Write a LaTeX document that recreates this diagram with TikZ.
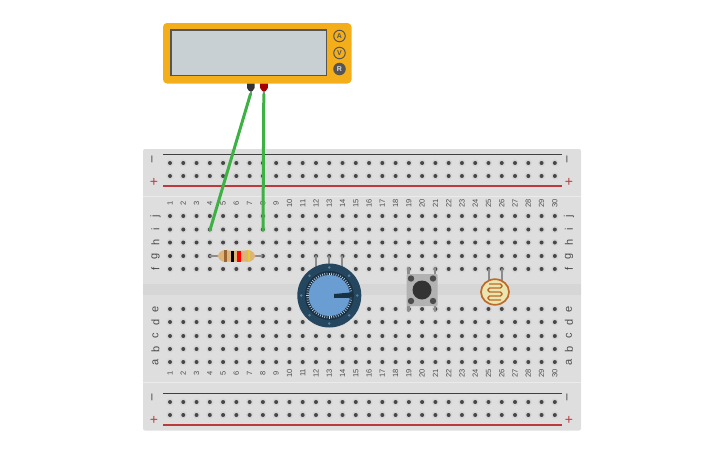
\documentclass[tikz,border=0pt]{standalone}
\usepackage{fontspec}
\setmainfont{Liberation Sans}
\usetikzlibrary{positioning}
\definecolor{boardgray}{HTML}{DEDEDE}
\definecolor{channelgray}{HTML}{D6D6D6}
\definecolor{meterorange}{HTML}{F3AE1A}
\definecolor{screengray}{HTML}{C8D0D3}
\definecolor{meterdark}{HTML}{555555}
\definecolor{railred}{HTML}{BC3A3E}
\definecolor{wiregreen}{HTML}{3DB143}
\definecolor{potdark}{HTML}{24465F}
\definecolor{potblue}{HTML}{6A9DD2}
\definecolor{ldrorange}{HTML}{BF6A2A}
\definecolor{restan}{HTML}{DDB57A}
\tikzset{
	tinylabel/.style={font=\fontsize{7.5}{8}\selectfont, text=black!70, rotate=90, inner sep=0pt},
	rowlabel/.style={font=\fontsize{11}{11}\selectfont, text=black!70, rotate=90, inner sep=0pt},
	minuslabel/.style={font=\fontsize{14}{14}\selectfont, text=black!65, rotate=90, inner sep=0pt},
	pluslabel/.style={font=\fontsize{14}{14}\selectfont, text=railred, inner sep=0pt},
	modebutton/.style={circle, draw=meterdark, line width=1pt, minimum size=11.5pt, inner sep=0pt, font=\fontsize{7}{7}\selectfont\bfseries, text=meterdark},
	jumper/.style={line width=3pt, wiregreen, line cap=round},
	pinlead/.style={line width=2pt, black!45, line cap=round}
}
\newcommand{\boardhole}[2]{
	\fill[black!17] (#1,#2) circle (3.6);
	\fill[black!72] (#1,#2) circle (2);
}
\begin{document}
\begin{tikzpicture}[x=1pt,y=-1pt]
	\useasboundingbox (0,0) rectangle (725,453);

	% Draw the board with its channel and rail separators
	\fill[rounded corners=2pt, boardgray] (143,149) rectangle (581,430.5);
	\fill[channelgray] (143,284) rectangle (581,295);
	\draw[line width=0.7pt, black!8] (143,196) -- (581,196);
	\draw[line width=0.7pt, black!8] (143,382) -- (581,382);

	% Power rails
	\draw[line width=1.2pt, black!75] (163,154.5) -- (562,154.5);
	\draw[line width=1.2pt, railred] (163,186) -- (562,186);
	\draw[line width=1.2pt, black!75] (163,393.5) -- (562,393.5);
	\draw[line width=1.2pt, railred] (163,425) -- (562,425);

	\foreach \railx/\railname in {154/left,569/right} {
		\node[minuslabel] (minus-top-\railname) at (\railx,159) {−};
		\node[pluslabel] (plus-top-\railname) at (\railx,182) {+};
		\node[minuslabel] (minus-bot-\railname) at (\railx,397) {−};
		\node[pluslabel] (plus-bot-\railname) at (\railx,420) {+};
	}

	% Holes, column numbers
	\foreach \col in {1,...,30} {
		\pgfmathsetmacro{\colx}{170+(\col-1)*13.27}
		\foreach \rowy in {163,176,216,229.5,242.5,256,269,309,322,336,349,362,402,415} {
			\boardhole{\colx}{\rowy}
		}
		\node[tinylabel] (num-top-\col) at (\colx,203.5) {\col};
		\node[tinylabel] (num-bot-\col) at (\colx,373) {\col};
	}

	% Row letters
	\foreach \rowy/\rowname in {216/j,229.5/i,242.5/h,256/g,269/f,309/e,322/d,336/c,349/b,362/a} {
		\node[rowlabel] (row-left-\rowname) at (155.5,\rowy) {\rowname};
		\node[rowlabel] (row-right-\rowname) at (569,\rowy) {\rowname};
	}

	% Multimeter
	\fill[rounded corners=4pt, meterorange] (163,23) rectangle (351.5,83.5);
	\draw[line width=1.9pt, meterdark, fill=screengray] (171,30) rectangle (326.5,75.5);
	\node[modebutton] (mode-a) at (339.5,36) {A};
	\node[modebutton] (mode-v) at (339.5,53) {V};
	\node[modebutton, fill=meterdark, text=boardgray] (mode-r) at (339.5,69) {R};

	% Probes
	\fill[black!45] (249.5,90) rectangle (252,94);
	\fill[black!80] (247,83.5) -- (254.5,83.5) -- (254.5,88) -- (252.5,91) -- (249,91) -- (247,88) -- cycle;
	\fill[black!45] (262.7,90) rectangle (265.2,94);
	\fill[red!65!black] (260.2,83.5) -- (267.8,83.5) -- (267.8,88) -- (265.8,91) -- (262.2,91) -- (260.2,88) -- cycle;
	\coordinate (probe-black) at (250.5,94);
	\coordinate (probe-red) at (263.8,94);
	\coordinate (hole-black) at (210,230);
	\coordinate (hole-red) at (263,230);
	\draw[jumper] (probe-black) -- (hole-black);
	\draw[jumper] (probe-red) -- (hole-red);

	% Resistor
	\draw[pinlead] (209.5,256) -- (262,256);
	\fill[restan] (217.5,256) .. controls (220,250) and (224,249.5) .. (228,250.5) -- (245,250.5) .. controls (249,249.5) and (253,250) .. (255.5,256) .. controls (253,262) and (249,262.5) .. (245,261.5) -- (228,261.5) .. controls (224,262.5) and (220,262) .. (217.5,256) -- cycle;
	\fill[brown!80!black] (223.5,250) rectangle (227,262);
	\fill[black] (230.5,250.5) rectangle (234,261.5);
	\fill[red] (237,250.5) rectangle (240.5,261.5);
	\fill[yellow!60!brown] (248,250) rectangle (249.5,262);

	% Potentiometer
	\foreach \pinx in {316,329,342} {
		\draw[pinlead] (\pinx,256) -- (\pinx,272);
	}
	\fill[potdark] (329.3,295.5) circle (32);
	\fill[potdark!70!black] (329.3,295.5) circle (24.5);
	\foreach \tick in {0,6,...,354} {
		\draw[line width=0.6pt, white!60!potblue] (329.3,295.5) ++(\tick:20.5) -- ++(\tick:2.5);
	}
	\fill[potblue] (329.3,295.5) circle (20.5);
	\foreach \screw in {0,45,...,315} {
		\fill[potblue!80!black] (329.3,295.5) ++(\screw:28) circle (1.4);
	}
	\fill[potdark!70!black] (334,294) -- (352.5,292.3) -- (352.5,297.7) -- (334,298) -- cycle;

	% Push button
	\foreach \pinx in {408.5,435} {
		\draw[pinlead, line width=2.2pt] (\pinx,268) -- (\pinx,275);
		\draw[pinlead, line width=2.2pt] (\pinx,305) -- (\pinx,311);
	}
	\fill[rounded corners=1pt, black!30] (406.5,274) rectangle (437.5,306);
	\foreach \cornx/\corny in {411/278.5,433/278.5,411/301,433/301} {
		\fill[black!70] (\cornx,\corny) circle (3.2);
	}
	\fill[black!80] (422,290) circle (9.5);

	% Photoresistor
	\foreach \pinx in {488.5,502} {
		\draw[pinlead] (\pinx,269) -- (\pinx,283);
	}
	\draw[line width=1.7pt, ldrorange, fill=yellow!25!boardgray] (495,292) ellipse (14 and 12.8);
	\draw[line width=1.3pt, ldrorange, rounded corners=1.6pt] (489,284) -- (502,284) -- (502,288) -- (488,288) -- (488,292) -- (502,292) -- (502,296) -- (488,296) -- (488,300) -- (501,300);
\end{tikzpicture}
\end{document}
